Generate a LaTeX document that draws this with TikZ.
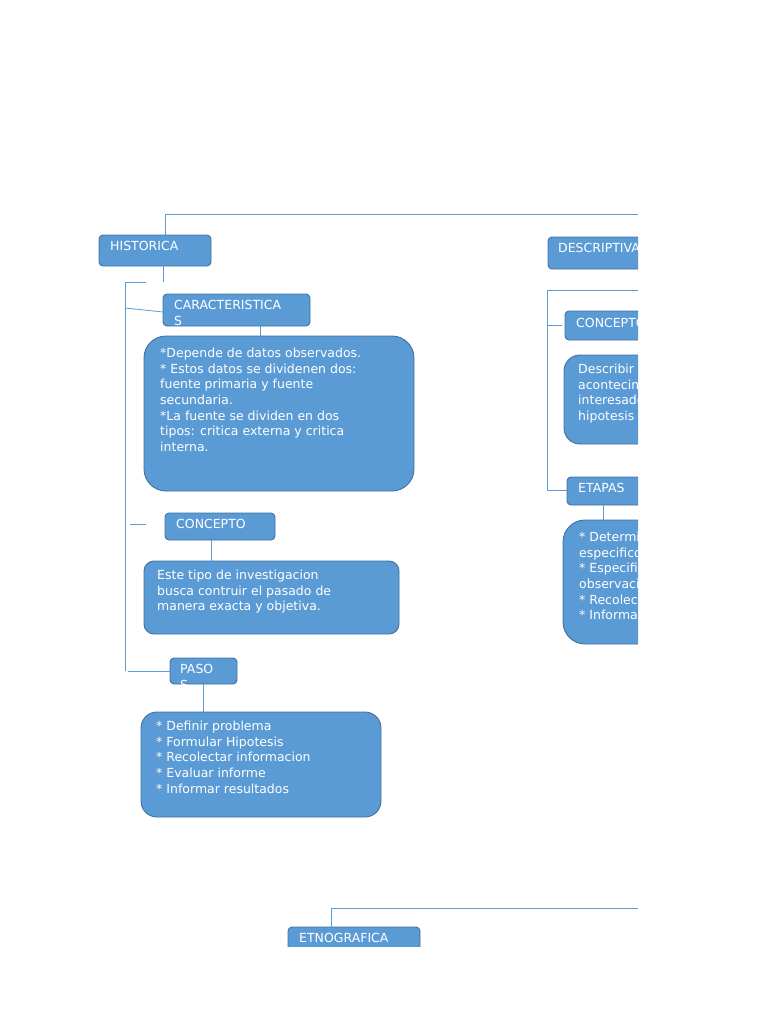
\documentclass[tikz,border=0pt]{standalone}
\usepackage{fontspec}
\setmainfont{DejaVu Sans}
\definecolor{bfill}{HTML}{5B9BD5}
\definecolor{bdraw}{HTML}{41719C}
\definecolor{lnk}{HTML}{5B9BD5}
\begin{document}
\begin{tikzpicture}[x=1pt,y=-1pt,
  box/.style={draw=bdraw,fill=bfill,line width=0.9pt,rounded corners=4pt},
  bigbox/.style={draw=bdraw,fill=bfill,line width=0.9pt,rounded corners=22pt},
  txt/.style={anchor=north west,inner sep=0pt,text=white,align=left,font=\fontsize{12.5}{15.6}\selectfont},
  lk/.style={draw=lnk,line width=0.8pt}]
\useasboundingbox (0,0) rectangle (768,1024);
\begin{scope}
\clip (0,0) rectangle (638,946);
% HISTORICA branch
\draw[box] (99,235) rectangle (211,266);
\node[txt] (hist) at (110,241) {HISTORICA};
\draw[box] (163,294) rectangle (310,326);
\node[txt] (car) at (174,300) {CARACTERISTICA\\S};
\draw[bigbox] (144,336) rectangle (414,491);
\node[txt] (cartxt) at (160,348) {*Depende de datos observados.\\* Estos datos se dividenen dos:\\fuente primaria y fuente\\secundaria.\\*La fuente se dividen en dos\\tipos: critica externa y critica\\interna.};
\draw[box] (165,513) rectangle (275,540);
\node[txt] (con) at (176,519) {CONCEPTO};
\draw[box,rounded corners=10pt] (144,561) rectangle (399,634);
\node[txt] (contxt) at (157,570) {Este tipo de investigacion\\busca contruir el pasado de\\manera exacta y objetiva.};
\draw[box] (170,658) rectangle (237,684);
\node[txt] (paso) at (180,664) {PASO\\S};
\draw[bigbox,rounded corners=16pt] (141,712) rectangle (381,817);
\node[txt] (pasotxt) at (156,721) {* Definir problema\\* Formular Hipotesis\\* Recolectar informacion\\* Evaluar informe\\* Informar resultados};
% connectors
\coordinate (t1) at (165,214); \coordinate (t2) at (638,214); \coordinate (t3) at (165,235);
\draw[lk] (t3) -- (t1) -- (t2);
\coordinate (h1) at (163,266); \coordinate (h2) at (163,282);
\draw[lk] (h1) -- (h2);
\coordinate (v1) at (125,282); \coordinate (v2) at (125,671); \coordinate (v3) at (146,282);
\draw[lk] (v3) -- (v1) -- (v2);
\coordinate (c1) at (125,308); \coordinate (c2) at (163,312);
\draw[lk] (c1) -- (c2);
\coordinate (d1) at (130,524); \coordinate (d2) at (146,524);
\draw[lk] (d1) -- (d2);
\coordinate (e1) at (128,671); \coordinate (e2) at (170,671);
\draw[lk] (e1) -- (e2);
\coordinate (f1) at (260,326); \coordinate (f2) at (260,336);
\draw[lk] (f1) -- (f2);
\coordinate (g1) at (211,540); \coordinate (g2) at (211,561);
\draw[lk] (g1) -- (g2);
\coordinate (k1) at (203,684); \coordinate (k2) at (203,712);
\draw[lk] (k1) -- (k2);
% DESCRIPTIVA branch
\draw[box] (548,237) rectangle (700,269);
\node[txt] (desc) at (558,243) {DESCRIPTIVA};
\draw[box] (565,311) rectangle (700,340);
\node[txt] (dcon) at (576,318) {CONCEPTO};
\draw[bigbox,rounded corners=16pt] (564,355) rectangle (760,444);
\node[txt] (dcontxt) at (578,364) {Describir\\acontecimientos\\interesados\\hipotesis};
\draw[box] (567,477) rectangle (700,505);
\node[txt] (etapas) at (578,483) {ETAPAS};
\draw[bigbox] (563,520) rectangle (760,644);
\node[txt] (etxt) at (579,532) {* Determinar\\especifico\\* Especificar\\observacion\\* Recolectar\\* Informar};
\coordinate (p1) at (547,290); \coordinate (p2) at (638,290); \coordinate (p3) at (547,490);
\draw[lk] (p2) -- (p1) -- (p3);
\coordinate (q1) at (547,325); \coordinate (q2) at (562,325);
\draw[lk] (q1) -- (q2);
\coordinate (r1) at (547,490); \coordinate (r2) at (567,490);
\draw[lk] (r1) -- (r2);
\coordinate (s1) at (603,505); \coordinate (s2) at (603,520);
\draw[lk] (s1) -- (s2);
% ETNOGRAFICA
\draw[box] (288,927) rectangle (420,980);
\node[txt] (etno) at (299,933) {ETNOGRAFICA};
\coordinate (w1) at (331,908); \coordinate (w2) at (638,908); \coordinate (w3) at (331,927);
\draw[lk] (w3) -- (w1) -- (w2);
\end{scope}
\end{tikzpicture}
\end{document}
